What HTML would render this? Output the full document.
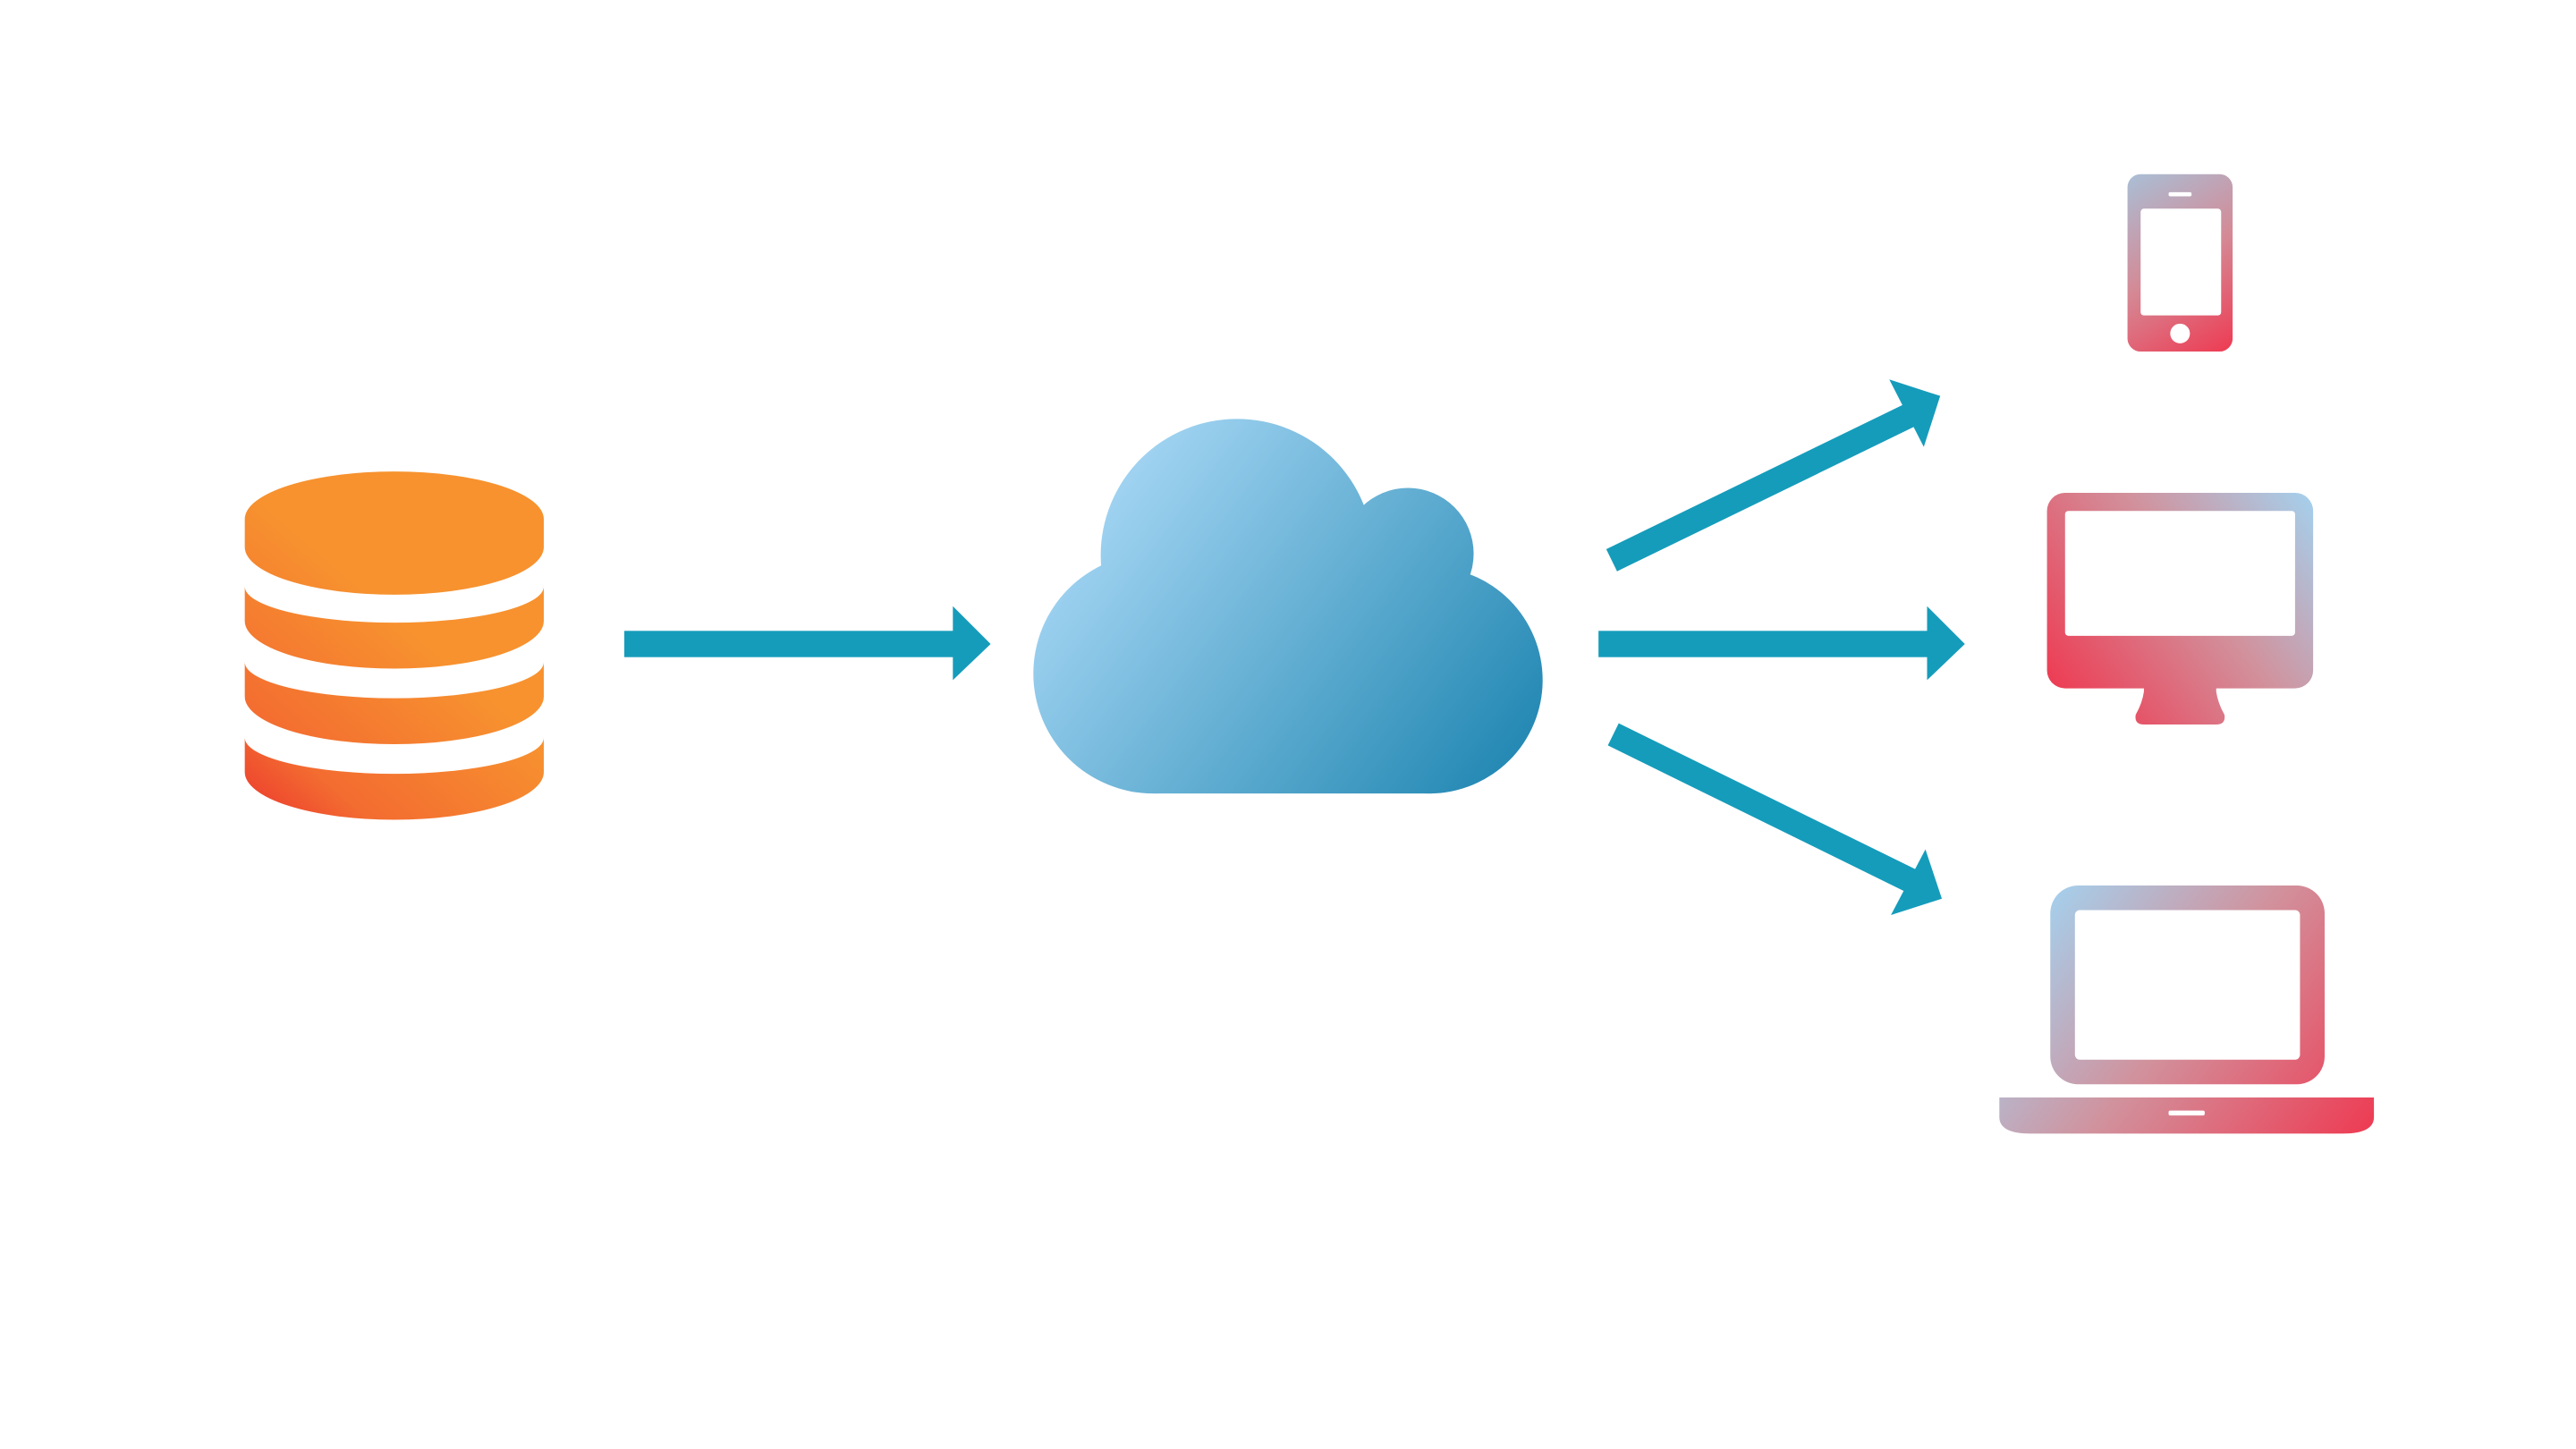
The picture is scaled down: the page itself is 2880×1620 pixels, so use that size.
<!DOCTYPE html>
<html><head><meta charset="utf-8"><style>html,body{margin:0;padding:0;background:#fff}svg{display:block}</style></head>
<body>
<svg width="2880" height="1620" viewBox="0 0 1568 882" xmlns="http://www.w3.org/2000/svg">
<defs>
<linearGradient id="db" gradientUnits="userSpaceOnUse" x1="300" y1="320" x2="150" y2="495"><stop offset="0.35" stop-color="#f7922f"/><stop offset="0.8" stop-color="#f36c30"/><stop offset="1" stop-color="#ec3a2e"/></linearGradient>
<linearGradient id="cl" gradientUnits="userSpaceOnUse" x1="680" y1="280" x2="930" y2="470"><stop offset="0" stop-color="#a4d5f3"/><stop offset="1" stop-color="#1f86b1"/></linearGradient>
<linearGradient id="ph" gradientUnits="userSpaceOnUse" x1="1295" y1="106" x2="1359" y2="214"><stop offset="0" stop-color="#a9bfd6"/><stop offset="0.5" stop-color="#d48a96"/><stop offset="1" stop-color="#ee3a52"/></linearGradient>
<linearGradient id="mo" gradientUnits="userSpaceOnUse" x1="1408" y1="300" x2="1246" y2="419"><stop offset="0" stop-color="#a4d1ee"/><stop offset="0.45" stop-color="#d1929d"/><stop offset="1" stop-color="#ee3a52"/></linearGradient>
<linearGradient id="lp" gradientUnits="userSpaceOnUse" x1="1248" y1="539" x2="1445" y2="690"><stop offset="0" stop-color="#a4d1ee"/><stop offset="0.45" stop-color="#d1929d"/><stop offset="1" stop-color="#ee3a52"/></linearGradient>
</defs>
<g fill="url(#db)">
<path d="M149,316 A91,29 0 0 1 331,316 V333 A91,29 0 0 1 149,333 Z"/>
<path d="M149,357 A91,22 0 0 0 331,357 V378 A91,29 0 0 1 149,378 Z"/>
<path d="M149,403 A91,22 0 0 0 331,403 V424 A91,29 0 0 1 149,424 Z"/>
<path d="M149,449 A91,22 0 0 0 331,449 V470 A91,29 0 0 1 149,470 Z"/>
</g>
<g fill="#159cbb">
<rect x="380" y="384" width="201" height="16"/><polygon points="580,369 603,392 580,414"/>
<rect x="973" y="384" width="201" height="16"/><polygon points="1173,369 1196,392 1173,414"/>
<polygon points="1150,231 1181,241 1171,272"/>
<polygon points="1151,557 1182,547 1172,517"/>
</g>
<line x1="981" y1="341" x2="1166" y2="251" stroke="#159cbb" stroke-width="15"/>
<line x1="982" y1="447" x2="1167" y2="538" stroke="#159cbb" stroke-width="15"/>
<g fill="url(#cl)">
<circle cx="753" cy="338" r="83"/>
<circle cx="857" cy="337" r="40"/>
<circle cx="870" cy="414" r="69"/>
<circle cx="702" cy="410" r="73"/>
<rect x="702" y="380" width="170" height="103"/>
<rect x="760" y="330" width="100" height="60"/>
</g>
<rect x="1295" y="106" width="64" height="108" rx="8" fill="url(#ph)"/>
<rect x="1303" y="127" width="49" height="65" rx="2" fill="#fff"/>
<rect x="1320" y="117" width="14" height="2.5" rx="1" fill="#fff"/>
<circle cx="1327" cy="203" r="6" fill="#fff"/>
<g fill="url(#mo)">
<rect x="1246" y="300" width="162" height="119" rx="11"/>
<path d="M1305,415 L1349,415 L1349,421 Q1350,428 1354,435 Q1355,441 1349,441 L1305,441 Q1299,441 1300,435 Q1304,428 1305,421 Z"/>
</g>
<rect x="1257" y="311" width="140" height="76" rx="2" fill="#fff"/>
<rect x="1248" y="539" width="167" height="121" rx="17" fill="url(#lp)"/>
<rect x="1263" y="554" width="137" height="91" rx="3" fill="#fff"/>
<path d="M1217,668 H1445 V680 Q1445,690 1426,690 H1236 Q1217,690 1217,680 Z" fill="url(#lp)"/>
<rect x="1320" y="676" width="22" height="3" rx="1" fill="#fff"/>
</svg>
</body></html>
